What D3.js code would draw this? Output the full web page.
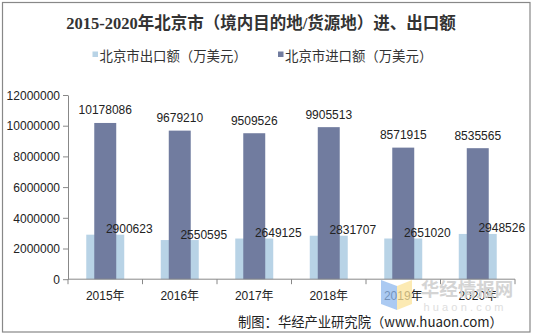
<!DOCTYPE html>
<html><head><meta charset="utf-8">
<script src="https://cdn.jsdelivr.net/npm/d3@7"></script>
<style>body{margin:0;background:#fff}svg{display:block}</style>
</head><body>
<svg id="c" width="535" height="335"></svg>
<script>
const years = ["2015年","2016年","2017年","2018年","2019年","2020年"];
const exportVals = [2900623, 2550595, 2649125, 2831707, 2651020, 2948526];
const importVals = [10178086, 9679210, 9509526, 9905513, 8571915, 8535565];
const yTicks = [0, 2000000, 4000000, 6000000, 8000000, 10000000, 12000000];
const seriesNames = ["北京市出口额（万美元）", "北京市进口额（万美元）"];
const colors = ["#b8d3e6", "#717c9f"];

const svg = d3.select("#c");
const num = "'Liberation Sans', Arial, sans-serif";
const cjk = "'Liberation Sans', 'Noto Sans CJK SC', sans-serif";

svg.append("rect").attr("x",2.5).attr("y",2.5).attr("width",527.5).attr("height",329.5)
  .attr("fill","#fff").attr("stroke","#888").attr("stroke-width",1.2);

// title
svg.append("text").attr("x",261).attr("y",28.5).attr("text-anchor","middle")
  .style("font-family","'Liberation Serif', 'Noto Sans CJK SC', serif").style("font-weight","bold")
  .style("font-size","16.5px").attr("fill","#333")
  .text("2015-2020年北京市（境内目的地/货源地）进、出口额");

// legend
const legX = [92.5, 278];
seriesNames.forEach((n,i)=>{
  svg.append("rect").attr("x",legX[i]).attr("y",51.5).attr("width",5.5).attr("height",5.5).attr("fill",colors[i]);
  svg.append("text").attr("x",legX[i]+7).attr("y",61).style("font-family","'Noto Sans CJK SC', sans-serif")
    .style("font-size","13.4px").attr("fill","#333").text(n);
});

const x = d3.scaleBand().domain(years).range([68, 515]);
const y = d3.scaleLinear().domain([0, 12000000]).range([279.2, 95]);

// y axis
const ya = svg.append("g").attr("transform","translate(68,0)")
  .call(d3.axisLeft(y).tickValues(yTicks).tickFormat(d3.format("d")).tickSize(5).tickSizeOuter(0));
ya.select(".domain").attr("stroke","#888");
ya.selectAll(".tick line").attr("stroke","#888");
ya.selectAll(".tick text").attr("x",-8).attr("dy","0.35em").style("font-family",num).style("font-size","12px").attr("fill","#222");

// bars
const bw = x.bandwidth();
const lw = bw*0.51, dw = bw*0.295;
svg.append("g").selectAll("rect").data(years).join("rect")
  .attr("x",d=>x(d)+bw/2-lw/2).attr("width",lw)
  .attr("y",(d,i)=>y(exportVals[i])).attr("height",(d,i)=>y(0)-y(exportVals[i]))
  .attr("fill",colors[0]);
svg.append("g").selectAll("rect").data(years).join("rect")
  .attr("x",d=>x(d)+bw/2-dw/2).attr("width",dw)
  .attr("y",(d,i)=>y(importVals[i])).attr("height",(d,i)=>y(0)-y(importVals[i]))
  .attr("fill",colors[1]);

// x axis
const xa = svg.append("g").attr("transform","translate(0,279.2)");
xa.append("line").attr("x1",68).attr("x2",515).attr("stroke","#888");
const bounds = years.map(d=>x(d)).concat([515]);
xa.selectAll("line.t").data(bounds).join("line").attr("class","t")
  .attr("x1",d=>d).attr("x2",d=>d).attr("y1",0).attr("y2",5).attr("stroke","#888");

// watermark
const wm = svg.append("g");
wm.append("polygon").attr("points","381,280 397,286 397,310 381,304").attr("fill","#8fb8ee").attr("opacity",0.75);
wm.append("polygon").attr("points","397,286 412,280 412,304 397,310").attr("fill","#fbe39a").attr("opacity",0.75);
wm.append("text").attr("x",467).attr("y",296).attr("text-anchor","middle")
  .style("font-family","'Noto Sans CJK SC', sans-serif").style("font-weight","bold").style("font-size","18.5px")
  .attr("fill","#d4d4d4").text("华经情报网");
wm.append("text").attr("x",465).attr("y",311).attr("text-anchor","middle")
  .style("font-family",num).style("font-size","11px").style("letter-spacing","3.2px")
  .attr("fill","#dedede").text("huaon.com");

xa.selectAll("text").data(years).join("text")
  .attr("x",d=>x(d)+bw/2).attr("y",21).attr("text-anchor","middle")
  .style("font-family",cjk).style("font-size","12px").attr("fill","#222").text(d=>d);

// labels
svg.append("g").selectAll("text").data(years).join("text")
  .attr("x",d=>x(d)+bw/2).attr("y",(d,i)=>y(importVals[i])-8.5).attr("text-anchor","middle")
  .style("font-family",num).style("font-size","12px").attr("fill","#222").text((d,i)=>importVals[i]);
svg.append("g").selectAll("text").data(years).join("text")
  .attr("x",d=>x(d)+bw/2+24).attr("y",(d,i)=>y(exportVals[i])-1.5).attr("text-anchor","middle")
  .style("font-family",num).style("font-size","12px").attr("fill","#222").text((d,i)=>exportVals[i]);

// source
svg.append("text").attr("x",238).attr("y",327).style("font-family","'Noto Sans CJK SC', sans-serif")
  .style("font-size","13.3px").attr("fill","#222").text("制图：华经产业研究院（www.huaon.com）");
</script>
</body></html>
